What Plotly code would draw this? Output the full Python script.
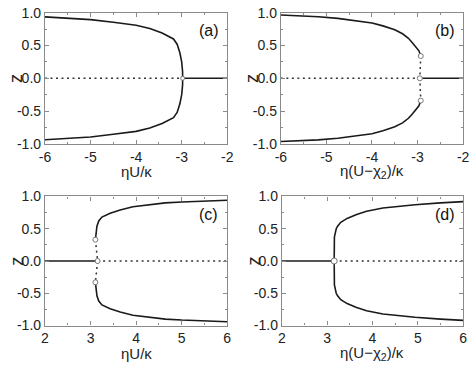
import plotly.graph_objects as go

# ---------------- data ----------------
# panel (a)
a_x_up = [-6.0, -5.5, -5.0, -4.5, -4.0, -3.7, -3.43, -3.18, -3.10, -3.04, -3.0, -2.98, -2.98]
a_z_up = [0.937, 0.92, 0.895, 0.855, 0.81, 0.76, 0.69, 0.60, 0.52, 0.39, 0.25, 0.10, 0.0]
a_x_lo = [-6.0, -5.5, -5.0, -4.5, -4.0, -3.7, -3.43, -3.18, -3.10, -3.04, -3.0, -2.98, -2.98]
a_z_lo = [-0.937, -0.92, -0.895, -0.855, -0.81, -0.76, -0.69, -0.60, -0.52, -0.39, -0.25, -0.10, 0.0]
a_x_unstable = [-6.0, -2.98]
a_z_unstable = [0.0, 0.0]
a_x_stable = [-2.98, -2.0]
a_z_stable = [0.0, 0.0]
a_x_pts = [-2.98]
a_z_pts = [0.0]

# panel (b)
b_x_up = [-6.0, -5.5, -5.18, -4.75, -4.33, -4.0, -3.76, -3.5, -3.33, -3.2, -3.11, -3.02, -2.97, -2.93]
b_z_up = [0.965, 0.955, 0.94, 0.915, 0.88, 0.845, 0.80, 0.74, 0.68, 0.61, 0.54, 0.46, 0.42, 0.34]
b_x_lo = [-6.0, -5.5, -5.18, -4.75, -4.33, -4.0, -3.76, -3.5, -3.33, -3.2, -3.11, -3.02, -2.97, -2.93]
b_z_lo = [-0.965, -0.955, -0.94, -0.915, -0.88, -0.845, -0.80, -0.74, -0.68, -0.61, -0.54, -0.46, -0.42, -0.34]
b_x_vert = [-2.93, -2.95, -2.93]
b_z_vert = [0.34, 0.0, -0.34]
b_x_unstable = [-6.0, -2.95]
b_z_unstable = [0.0, 0.0]
b_x_stable = [-2.95, -2.0]
b_z_stable = [0.0, 0.0]
b_x_pts = [-2.93, -2.95, -2.93]
b_z_pts = [0.34, 0.0, -0.34]

# panel (c)
c_x_up = [3.106, 3.12, 3.14, 3.18, 3.25, 3.43, 3.65, 3.93, 4.3, 4.64, 5.0, 5.5, 6.0]
c_z_up = [0.33, 0.45, 0.54, 0.62, 0.68, 0.74, 0.79, 0.84, 0.875, 0.90, 0.915, 0.93, 0.94]
c_x_lo = [3.106, 3.12, 3.14, 3.18, 3.25, 3.43, 3.65, 3.93, 4.3, 4.64, 5.0, 5.5, 6.0]
c_z_lo = [-0.33, -0.45, -0.54, -0.62, -0.68, -0.74, -0.79, -0.84, -0.875, -0.90, -0.915, -0.93, -0.94]
c_x_vert = [3.106, 3.155, 3.106]
c_z_vert = [0.33, 0.0, -0.33]
c_x_stable = [2.0, 3.155]
c_z_stable = [0.0, 0.0]
c_x_unstable = [3.155, 6.0]
c_z_unstable = [0.0, 0.0]
c_x_pts = [3.106, 3.155, 3.106]
c_z_pts = [0.33, 0.0, -0.33]

# panel (d)
d_x_up = [3.155, 3.155, 3.16, 3.2, 3.23, 3.3, 3.44, 3.65, 3.87, 4.23, 4.6, 4.94, 5.5, 6.0]
d_z_up = [0.0, 0.2, 0.37, 0.50, 0.54, 0.60, 0.66, 0.72, 0.77, 0.82, 0.85, 0.87, 0.90, 0.92]
d_x_lo = [3.155, 3.155, 3.16, 3.2, 3.23, 3.3, 3.44, 3.65, 3.87, 4.23, 4.6, 4.94, 5.5, 6.0]
d_z_lo = [0.0, -0.2, -0.37, -0.50, -0.54, -0.60, -0.66, -0.72, -0.77, -0.82, -0.85, -0.87, -0.90, -0.92]
d_x_stable = [2.0, 3.155]
d_z_stable = [0.0, 0.0]
d_x_unstable = [3.155, 6.0]
d_z_unstable = [0.0, 0.0]
d_x_pts = [3.155]
d_z_pts = [0.0]

panel_labels = ["(a)", "(b)", "(c)", "(d)"]
x_titles = ["ηU/κ", "η(U−χ<sub>2</sub>)/κ", "ηU/κ", "η(U−χ<sub>2</sub>)/κ"]
y_title = "z"
x_ranges = [[-6, -2], [-6, -2], [2, 6], [2, 6]]
x_ticks = [[-6, -5, -4, -3, -2], [-6, -5, -4, -3, -2], [2, 3, 4, 5, 6], [2, 3, 4, 5, 6]]
y_ticks = [-1.0, -0.5, 0.0, 0.5, 1.0]
y_ticktext = ["-1.0", "-0.5", "0.0", "0.5", "1.0"]
x_ticktext = [["-6", "-5", "-4", "-3", "-2"], ["-6", "-5", "-4", "-3", "-2"],
              ["2", "3", "4", "5", "6"], ["2", "3", "4", "5", "6"]]

# ---------------- layout geometry ----------------
W, H = 474, 368
FONT = "Liberation Sans, Arial, sans-serif"
LINE_C = "#1a1a1a"
FRAME_C = "#8a8a8a"

xdoms = [[40 / W, 227 / W], [282 / W, 469 / W], [40 / W, 227 / W], [283 / W, 469 / W]]
ydoms = [[1 - 142 / H, 1 - 5 / H], [1 - 142 / H, 1 - 5 / H],
         [1 - 332 / H, 1 - 197 / H], [1 - 332 / H, 1 - 197 / H]]

fig = go.Figure()

def solid(x, y, ax):
    fig.add_trace(go.Scatter(x=x, y=y, mode="lines", line=dict(color=LINE_C, width=1.6),
                             xaxis="x" + ax, yaxis="y" + ax, showlegend=False, hoverinfo="skip"))

def dotted(x, y, ax):
    fig.add_trace(go.Scatter(x=x, y=y, mode="lines",
                             line=dict(color="#333333", width=1.5, dash="2px,3.5px"),
                             xaxis="x" + ax, yaxis="y" + ax, showlegend=False, hoverinfo="skip"))

def pts(x, y, ax, size=5):
    fig.add_trace(go.Scatter(x=x, y=y, mode="markers",
                             marker=dict(symbol="circle", size=size, color="white",
                                         line=dict(color="#777777", width=1)),
                             xaxis="x" + ax, yaxis="y" + ax, showlegend=False, hoverinfo="skip"))

# (a)
dotted(a_x_unstable, a_z_unstable, "")
solid(a_x_stable, a_z_stable, "")
solid(a_x_up, a_z_up, "")
solid(a_x_lo, a_z_lo, "")
pts(a_x_pts, a_z_pts, "", size=4)
# (b)
dotted(b_x_unstable, b_z_unstable, "2")
dotted(b_x_vert, b_z_vert, "2")
solid(b_x_stable, b_z_stable, "2")
solid(b_x_up, b_z_up, "2")
solid(b_x_lo, b_z_lo, "2")
pts(b_x_pts, b_z_pts, "2")
# (c)
solid(c_x_stable, c_z_stable, "3")
dotted(c_x_unstable, c_z_unstable, "3")
dotted(c_x_vert, c_z_vert, "3")
solid(c_x_up, c_z_up, "3")
solid(c_x_lo, c_z_lo, "3")
pts(c_x_pts, c_z_pts, "3")
# (d)
solid(d_x_stable, d_z_stable, "4")
dotted(d_x_unstable, d_z_unstable, "4")
solid(d_x_up, d_z_up, "4")
solid(d_x_lo, d_z_lo, "4")
pts(d_x_pts, d_z_pts, "4", size=6)

layout = dict(width=W, height=H, margin=dict(l=0, r=0, t=0, b=0),
              paper_bgcolor="white", plot_bgcolor="white",
              font=dict(family=FONT, size=13, color="#222222"))

annotations = []
for i in range(4):
    sfx = "" if i == 0 else str(i + 1)
    common = dict(showgrid=False, zeroline=False, showline=True, linecolor=FRAME_C, linewidth=1.2,
                  mirror="ticks", ticks="inside", ticklen=4, tickwidth=1, tickcolor=FRAME_C,
                  tickfont=dict(family=FONT, size=14, color="#222222"),
                  ticklabeloverflow="allow")
    layout["xaxis" + sfx] = dict(common, domain=xdoms[i], range=x_ranges[i], anchor="y" + sfx,
                                 tickmode="array", tickvals=x_ticks[i], ticktext=x_ticktext[i],
                                 minor=dict(dtick=0.5, ticks="inside", ticklen=2, tickcolor=FRAME_C),
                                 ticklabelstandoff=0)
    layout["yaxis" + sfx] = dict(common, domain=ydoms[i], range=[-1, 1], anchor="x" + sfx,
                                 tickmode="array", tickvals=y_ticks, ticktext=y_ticktext,
                                 minor=dict(dtick=0.25, ticks="inside", ticklen=2, tickcolor=FRAME_C),
                                 ticklabelstandoff=0)
    x0, x1 = xdoms[i]
    y0, y1 = ydoms[i]
    # panel label
    annotations.append(dict(text=panel_labels[i], x=x1 - 19 / W, y=y1 - 19 / H, xref="paper", yref="paper",
                            xanchor="center", yanchor="middle", showarrow=False,
                            font=dict(family=FONT, size=16, color="#111111")))
    # x title
    annotations.append(dict(text=x_titles[i], x=(x0 + x1) / 2, y=y0 - 29 / H, xref="paper", yref="paper",
                            xanchor="center", yanchor="middle", showarrow=False,
                            font=dict(family=FONT, size=15, color="#222222")))
    # y title
    annotations.append(dict(text=y_title, x=x0 - 29 / W, y=(y0 + y1) / 2, xref="paper", yref="paper",
                            xanchor="center", yanchor="middle", showarrow=False, textangle=-90,
                            font=dict(family=FONT, size=18, color="#222222")))

layout["annotations"] = annotations
fig.update_layout(**layout)
fig.write_html("out.html", config={"displayModeBar": False},
               post_script="document.body.style.margin='0';document.body.style.overflow='hidden';")
